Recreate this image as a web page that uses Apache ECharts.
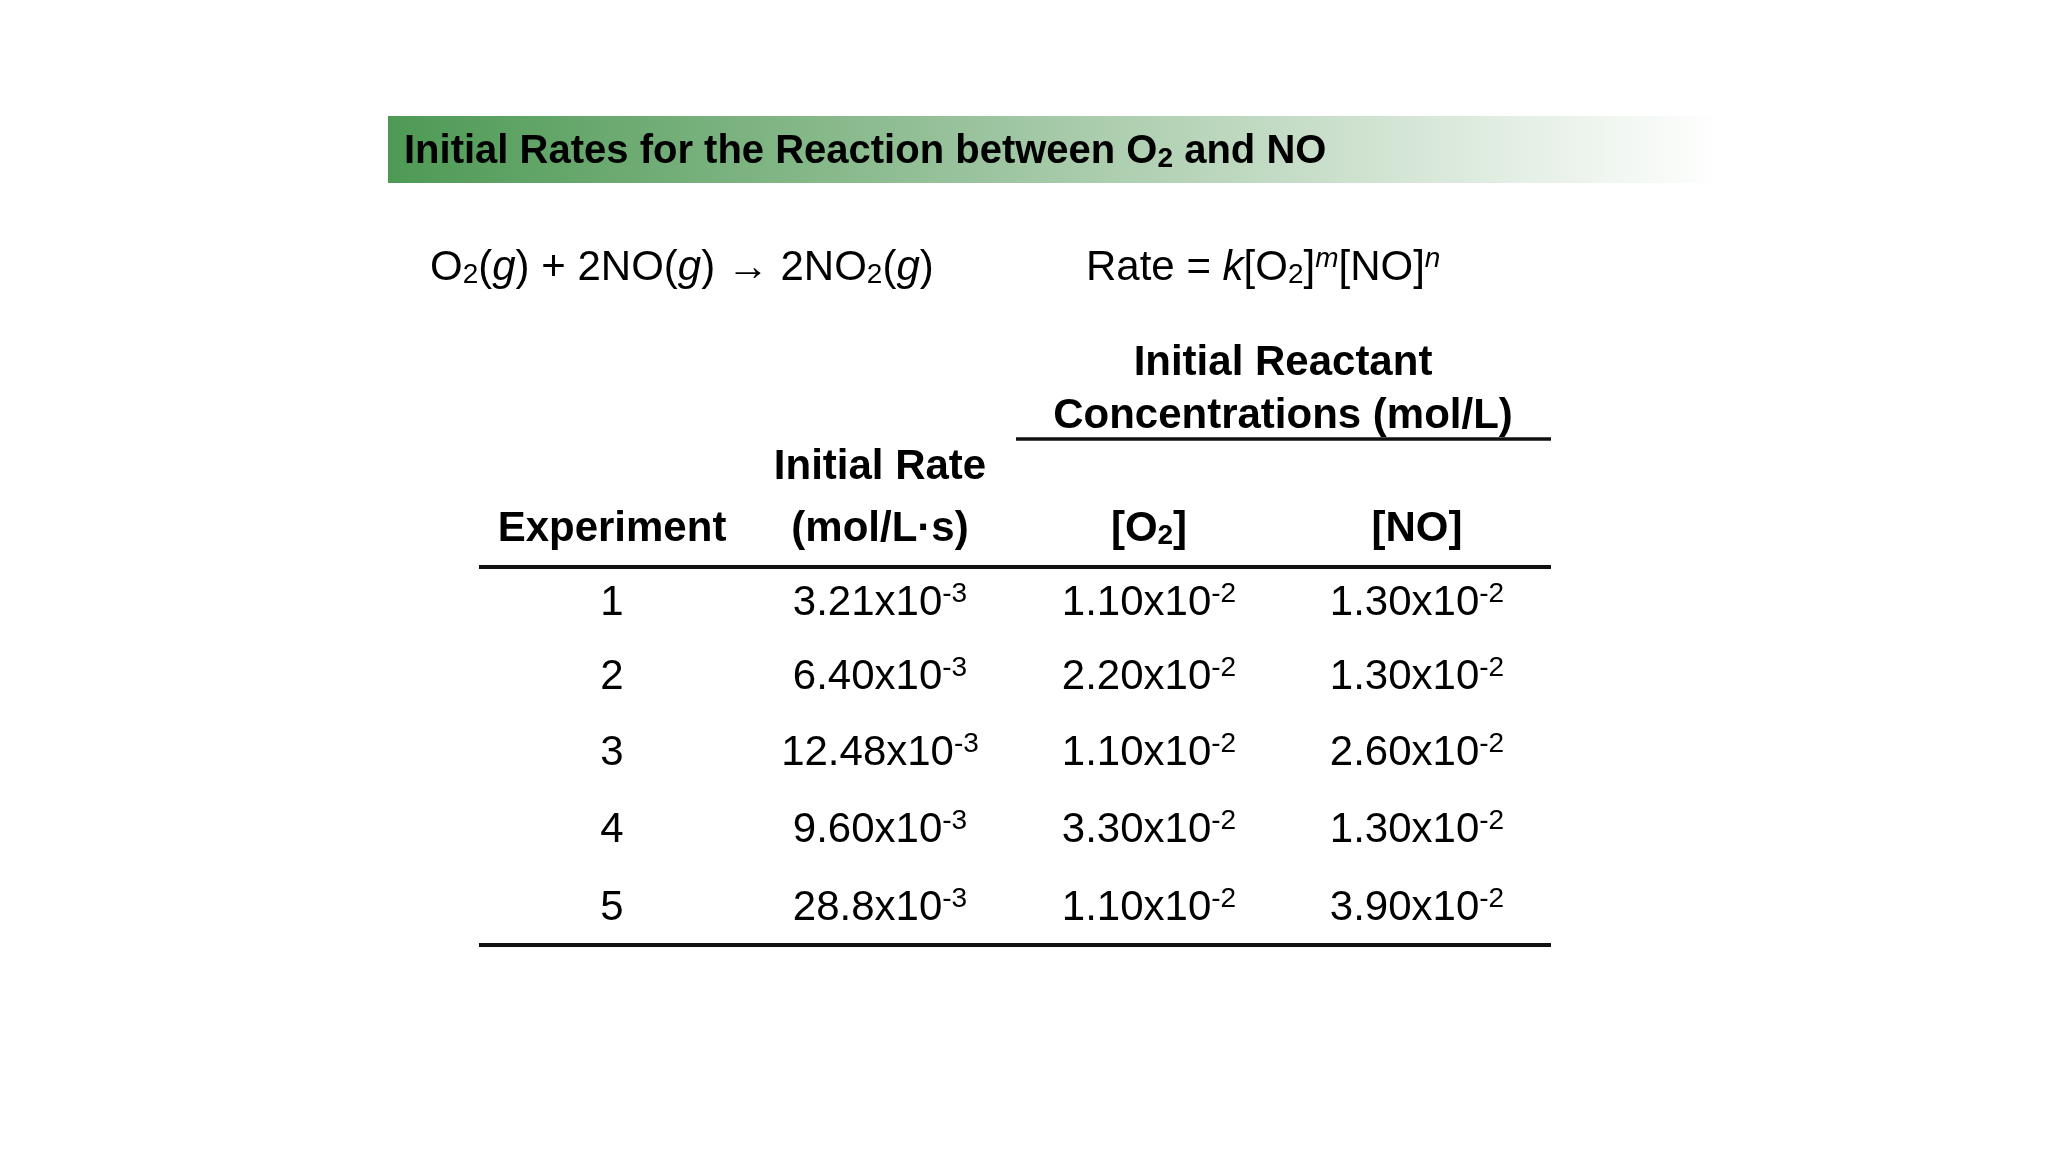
<!DOCTYPE html>
<html><head><meta charset="utf-8">
<script src="https://cdn.jsdelivr.net/npm/echarts@6/dist/echarts.min.js"></script>
<style>html,body{margin:0;background:#fff}#c{width:2048px;height:1152px}</style>
</head><body><div id="c"></div>
<script>
const experiments = ['1','2','3','4','5'];
const rates = [['3.21','-3'],['6.40','-3'],['12.48','-3'],['9.60','-3'],['28.8','-3']];
const o2 = [['1.10','-2'],['2.20','-2'],['1.10','-2'],['3.30','-2'],['1.10','-2']];
const no = [['1.30','-2'],['1.30','-2'],['2.60','-2'],['1.30','-2'],['3.90','-2']];

const F = 'Liberation Sans, Arial, sans-serif';
const FS = 42;
const rich = {
  n:{fontSize:FS,fontFamily:F,color:'#111'},
  b:{fontSize:FS,fontFamily:F,color:'#111',fontWeight:'bold'},
  i:{fontSize:FS,fontFamily:F,color:'#111',fontStyle:'italic'},
  sub:{fontSize:28,fontFamily:F,color:'#111',padding:[14,0,0,0]},
  subb:{fontSize:28,fontFamily:F,color:'#111',fontWeight:'bold',padding:[14,0,0,0]},
  sup:{fontSize:28,fontFamily:F,color:'#111',padding:[0,0,18,0]},
  supi:{fontSize:28,fontFamily:F,color:'#111',fontStyle:'italic',padding:[0,0,18,0]},
  t:{fontSize:40,fontFamily:F,color:'#111',fontWeight:'bold'},
  tsub:{fontSize:28,fontFamily:F,color:'#111',fontWeight:'bold',padding:[14,0,0,0]}
};
function txt(x,y,s,align){
  return {type:'text',x:x,y:y,style:{text:s,rich:rich,align:align||'center',verticalAlign:'middle'}};
}
function line(x1,x2,y,w){
  return {type:'line',shape:{x1:x1,y1:y,x2:x2,y2:y},style:{stroke:'#111',lineWidth:w}};
}
const els = [];
els.push({type:'rect',shape:{x:388,y:116,width:1334,height:67},style:{fill:new echarts.graphic.LinearGradient(0,0,1,0,[{offset:0,color:'#4e9a55'},{offset:0.45,color:'#9cc49f'},{offset:1,color:'rgba(255,255,255,1)'}])}});
els.push(txt(404,152,'{t|Initial Rates for the Reaction between O}{tsub|2}{t| and NO}','left'));
els.push(txt(430,268,'{n|O}{sub|2}{n|(}{i|g}{n|) + 2NO(}{i|g}{n|) → 2NO}{sub|2}{n|(}{i|g}{n|)}','left'));
els.push(txt(1086,268,'{n|Rate = }{i|k}{n|[O}{sub|2}{n|]}{supi|m}{n|[NO]}{supi|n}','left'));
els.push(txt(1283,363,'{b|Initial Reactant}'));
els.push(txt(1283,416,'{b|Concentrations (mol/L)}'));
els.push(line(1016,1551,439,3.5));
els.push(txt(880,467,'{b|Initial Rate}'));
els.push(txt(880,529,'{b|(mol/L·s)}'));
els.push(txt(612,529,'{b|Experiment}'));
els.push(txt(1149,529,'{b|[O}{subb|2}{b|]}'));
els.push(txt(1417,529,'{b|[NO]}'));
els.push(line(479,1551,567,4));
const rowY = [603,677,753,830,908];
experiments.forEach((e,i)=>{
  const y = rowY[i];
  els.push(txt(612,y,'{n|'+e+'}'));
  els.push(txt(880,y,'{n|'+rates[i][0]+'x10}{sup|'+rates[i][1]+'}'));
  els.push(txt(1149,y,'{n|'+o2[i][0]+'x10}{sup|'+o2[i][1]+'}'));
  els.push(txt(1417,y,'{n|'+no[i][0]+'x10}{sup|'+no[i][1]+'}'));
});
els.push(line(479,1551,945,4));
const chart = echarts.init(document.getElementById('c'));
chart.setOption({backgroundColor:'#fff',graphic:{elements:els}});
</script></body></html>
